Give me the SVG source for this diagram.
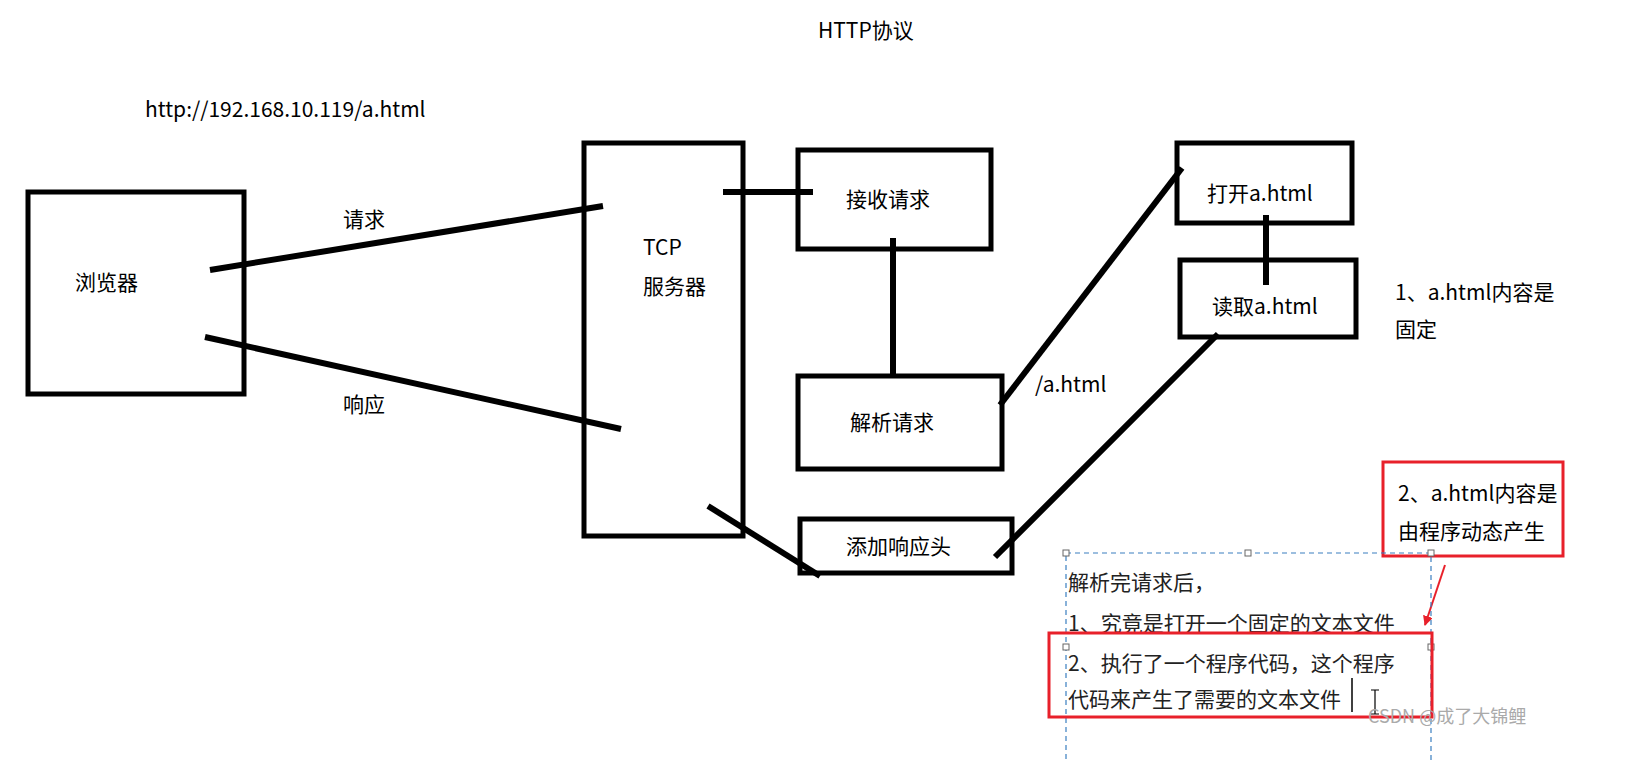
<svg xmlns="http://www.w3.org/2000/svg" width="1628" height="761" viewBox="0 0 1628 761">
<defs>
<style>
.t{font-family:"Microsoft YaHei","Noto Sans CJK SC",sans-serif;font-size:21px;fill:#000}
.s{font-family:"Noto Sans CJK SC",sans-serif;font-size:21px;fill:#222}
.b{fill:none;stroke:#000;stroke-width:5}
.c{stroke:#000;stroke-width:6;stroke-linecap:butt;fill:none}
.r{fill:none;stroke:#e8202a;stroke-width:3}
.h{fill:#fff;stroke:#666;stroke-width:1}
</style>
<marker id="ar" markerWidth="10" markerHeight="10" refX="9" refY="5" orient="auto" markerUnits="userSpaceOnUse"><path d="M0,0 L10,5 L0,10 z" fill="#e8202a"/></marker>
</defs>
<rect width="1628" height="761" fill="#fff"/>
<text class="t" x="818" y="38">HTTP协议</text>
<text class="t" x="145" y="117" font-size="22">http://192.168.10.119/a.html</text>
<g id="browser"><rect class="b" x="28" y="192" width="216" height="202"/><text class="t" x="75" y="290">浏览器</text></g>
<g id="tcp"><rect class="b" x="584" y="143" width="159" height="393"/><text class="t" x="643" y="255">TCP</text><text class="t" x="643" y="294">服务器</text></g>
<g id="recv"><rect class="b" x="798" y="150" width="193" height="99"/><text class="t" x="846" y="207">接收请求</text></g>
<g id="parse"><rect class="b" x="798" y="376" width="204" height="93"/><text class="t" x="850" y="430">解析请求</text></g>
<g id="addhead"><rect class="b" x="800" y="519" width="212" height="54"/><text class="t" x="846" y="554">添加响应头</text></g>
<g id="open"><rect class="b" x="1177" y="143" width="175" height="80"/><text class="t" x="1207" y="201">打开a.html</text></g>
<g id="read"><rect class="b" x="1180" y="260" width="176" height="77"/><text class="t" x="1212" y="314">读取a.html</text></g>
<g id="connectors">
<line class="c" x1="210" y1="270" x2="603" y2="206"/>
<line class="c" x1="205" y1="337" x2="621" y2="429"/>
<line class="c" x1="723" y1="192" x2="813" y2="192"/>
<line class="c" x1="893" y1="238" x2="893" y2="376"/>
<line class="c" x1="708" y1="506" x2="820" y2="576"/>
<line class="c" x1="1000" y1="405" x2="1182" y2="168"/>
<line class="c" x1="1266" y1="215" x2="1266" y2="285"/>
<line class="c" x1="995" y1="557" x2="1218" y2="334"/>
<text class="t" x="343" y="227">请求</text>
<text class="t" x="343" y="412">响应</text>
<text class="t" x="1035" y="392">/a.html</text>
<line x1="1445" y1="565" x2="1425" y2="625" stroke="#e8202a" stroke-width="2" marker-end="url(#ar)"/>
</g>
<g id="note1"><text class="t" x="1395" y="300">1、a.html内容是</text><text class="t" x="1395" y="337">固定</text></g>
<g id="note2"><rect class="r" x="1383" y="462" width="180" height="94"/><text class="t" x="1398" y="501">2、a.html内容是</text><text class="t" x="1398" y="539">由程序动态产生</text></g>
<g id="textbox">
<rect x="1066" y="553" width="365" height="215" fill="none" stroke="#3a7fc0" stroke-width="1.2" stroke-dasharray="5,4"/>
<rect class="h" x="1063" y="550" width="6" height="6"/><rect class="h" x="1245" y="550" width="6" height="6"/><rect class="h" x="1428" y="550" width="6" height="6"/>
<rect class="h" x="1063" y="644" width="6" height="6"/><rect class="h" x="1428" y="644" width="6" height="6"/>
<text class="s" x="1068" y="590">解析完请求后，</text>
<text class="s" x="1068" y="631">1、究竟是打开一个固定的文本文件</text>
<text class="s" x="1068" y="671">2、执行了一个程序代码，这个程序</text>
<text class="s" x="1068" y="707">代码来产生了需要的文本文件</text>
<rect class="r" x="1049" y="633" width="383" height="84"/>
<line x1="1352" y1="678" x2="1352" y2="712" stroke="#000" stroke-width="1.5"/>
<path d="M1371,690 h8 M1375,690 v24 M1371,714 h8" stroke="#000" stroke-width="1.2" fill="none"/>
</g>
<text x="1368" y="723" font-family="Noto Sans CJK SC,sans-serif" font-size="18" fill="#aaa">CSDN @成了大锦鲤</text>
</svg>
